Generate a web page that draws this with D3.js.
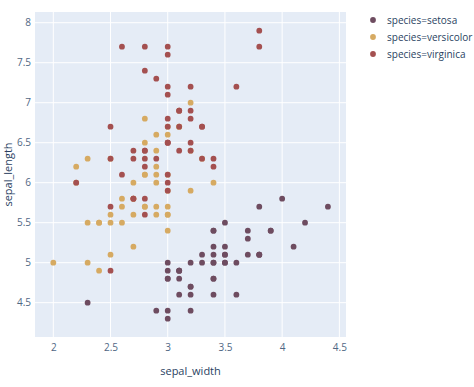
<!DOCTYPE html>
<html>
<head>
<meta charset="utf-8">
<script src="https://cdn.jsdelivr.net/npm/d3@7"></script>
<style>
  body { margin: 0; background: #fff; }
  svg { display: block; font-family: "Open Sans", sans-serif; }
</style>
</head>
<body>
<div id="chart"></div>
<script>
// iris: [sepal_width, sepal_length]
const setosa = [
  [3.5,5.1],[3.0,4.9],[3.2,4.7],[3.1,4.6],[3.6,5.0],[3.9,5.4],[3.4,4.6],[3.4,5.0],[2.9,4.4],[3.1,4.9],
  [3.7,5.4],[3.4,4.8],[3.0,4.8],[3.0,4.3],[4.0,5.8],[4.4,5.7],[3.9,5.4],[3.5,5.1],[3.8,5.7],[3.8,5.1],
  [3.4,5.4],[3.7,5.1],[3.6,4.6],[3.3,5.1],[3.4,4.8],[3.0,5.0],[3.4,5.0],[3.5,5.2],[3.4,5.2],[3.2,4.7],
  [3.1,4.8],[3.4,5.4],[4.1,5.2],[4.2,5.5],[3.1,4.9],[3.2,5.0],[3.5,5.5],[3.1,4.9],[3.0,4.4],[3.4,5.1],
  [3.5,5.0],[2.3,4.5],[3.2,4.4],[3.5,5.0],[3.8,5.1],[3.0,4.8],[3.8,5.1],[3.2,4.6],[3.7,5.3],[3.3,5.0]
];
const versicolor = [
  [3.2,7.0],[3.2,6.4],[3.1,6.9],[2.3,5.5],[2.8,6.5],[2.8,5.7],[3.3,6.3],[2.4,4.9],[2.9,6.6],[2.7,5.2],
  [2.0,5.0],[3.0,5.9],[2.2,6.0],[2.9,6.1],[2.9,5.6],[3.1,6.7],[3.0,5.6],[2.7,5.8],[2.2,6.2],[2.5,5.6],
  [3.2,5.9],[2.8,6.1],[2.5,6.3],[2.8,6.1],[2.9,6.4],[3.0,6.6],[2.8,6.8],[3.0,6.7],[2.9,6.0],[2.6,5.7],
  [2.4,5.5],[2.4,5.5],[2.7,5.8],[2.7,6.0],[3.0,5.4],[3.4,6.0],[3.1,6.7],[2.3,6.3],[3.0,5.6],[2.5,5.5],
  [2.6,5.5],[3.0,6.1],[2.6,5.8],[2.3,5.0],[2.7,5.6],[3.0,5.7],[2.9,5.7],[2.9,6.2],[2.5,5.1],[2.8,5.7]
];
const virginica = [
  [3.3,6.3],[2.7,5.8],[3.0,7.1],[2.9,6.3],[3.0,6.5],[3.0,7.6],[2.5,4.9],[2.9,7.3],[2.5,6.7],[3.6,7.2],
  [3.2,6.5],[2.7,6.4],[3.0,6.8],[2.5,5.7],[2.8,5.8],[3.2,6.4],[3.0,6.5],[3.8,7.7],[2.6,7.7],[2.2,6.0],
  [3.2,6.9],[2.8,5.6],[2.8,7.7],[2.7,6.3],[3.3,6.7],[3.2,7.2],[2.8,6.2],[3.0,6.1],[2.8,6.4],[3.0,7.2],
  [2.8,7.4],[3.8,7.9],[2.8,6.4],[2.8,6.3],[2.6,6.1],[3.0,7.7],[3.4,6.3],[3.1,6.4],[3.0,6.0],[3.1,6.9],
  [3.1,6.7],[3.1,6.9],[2.7,5.8],[3.2,6.8],[3.3,6.7],[3.0,6.7],[2.5,6.3],[3.0,6.5],[3.4,6.2],[3.0,5.9]
];
const speciesNames = ['species=setosa', 'species=versicolor', 'species=virginica'];
const colors = ['#6e4c60', '#d6aa62', '#a45050'];
const xTicks = [2, 2.5, 3, 3.5, 4, 4.5];
const yTicks = [4.5, 5, 5.5, 6, 6.5, 7, 7.5, 8];

const width = 474, height = 387;
const margin = { left: 35, right: 128, top: 12, bottom: 50 };

const svg = d3.select('#chart').append('svg')
  .attr('width', width)
  .attr('height', height);

const x = d3.scaleLinear()
  .domain([1.84, 4.558])
  .range([margin.left, width - margin.right]);
const y = d3.scaleLinear()
  .domain([4.071, 8.134])
  .range([height - margin.bottom, margin.top]);

svg.append('rect')
  .attr('x', margin.left)
  .attr('y', margin.top)
  .attr('width', width - margin.left - margin.right)
  .attr('height', height - margin.top - margin.bottom)
  .attr('fill', '#e5ecf6');

// grid
svg.append('g')
  .selectAll('line')
  .data(xTicks)
  .join('line')
  .attr('x1', d => x(d)).attr('x2', d => x(d))
  .attr('y1', margin.top).attr('y2', height - margin.bottom)
  .attr('stroke', '#fff').attr('stroke-width', 1);
svg.append('g')
  .selectAll('line')
  .data(yTicks)
  .join('line')
  .attr('y1', d => y(d)).attr('y2', d => y(d))
  .attr('x1', margin.left).attr('x2', width - margin.right)
  .attr('stroke', '#fff').attr('stroke-width', 1);

// axes
const xAxis = svg.append('g')
  .attr('transform', `translate(0,${height - margin.bottom})`)
  .call(d3.axisBottom(x).tickValues(xTicks).tickSize(0).tickPadding(7).tickFormat(d3.format('')));
const yAxis = svg.append('g')
  .attr('transform', `translate(${margin.left},0)`)
  .call(d3.axisLeft(y).tickValues(yTicks).tickSize(0).tickPadding(4).tickFormat(d3.format('')));
[xAxis, yAxis].forEach(a => {
  a.select('.domain').remove();
  a.selectAll('text').attr('fill', '#506784').attr('font-size', 10).attr('font-family', '"Open Sans", sans-serif');
});

const plotMidX = (margin.left + width - margin.right) / 2;
const plotMidY = (margin.top + height - margin.bottom) / 2;

svg.append('text')
  .attr('x', plotMidX)
  .attr('y', 375)
  .attr('text-anchor', 'middle')
  .attr('font-size', 11)
  .attr('fill', '#2a3f5f')
  .text('sepal_width');
svg.append('text')
  .attr('transform', `translate(12,${plotMidY}) rotate(-90)`)
  .attr('text-anchor', 'middle')
  .attr('font-size', 11)
  .attr('fill', '#2a3f5f')
  .text('sepal_length');

// points
[setosa, versicolor, virginica].forEach((set, i) => {
  svg.append('g')
    .selectAll('circle')
    .data(set)
    .join('circle')
    .attr('cx', d => x(d[0]))
    .attr('cy', d => y(d[1]))
    .attr('r', 2.9)
    .attr('fill', colors[i]);
});

// legend
const legend = svg.append('g').attr('transform', 'translate(373,20)');
speciesNames.forEach((name, i) => {
  const row = legend.append('g').attr('transform', `translate(0,${i * 17})`);
  row.append('circle').attr('r', 2.9).attr('fill', colors[i]);
  row.append('text')
    .attr('x', 14)
    .attr('dy', '0.35em')
    .attr('font-size', 10)
    .attr('fill', '#2a3f5f')
    .text(name);
});
</script>
</body>
</html>
